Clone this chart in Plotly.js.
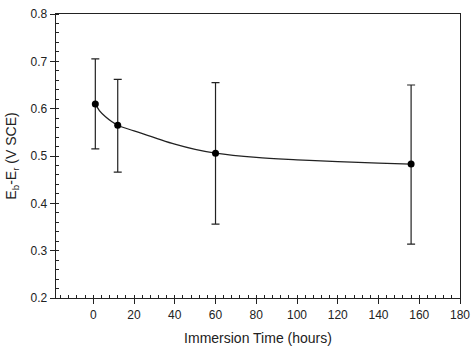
<!DOCTYPE html>
<html>
<head>
<meta charset="utf-8">
<script src="https://cdn.plot.ly/plotly-3.0.1.min.js"></script>
<style>html,body{margin:0;padding:0;background:#fff;}#chart{width:474px;height:347px;}</style>
</head>
<body>
<div id="chart"></div>
<script>
// Measured data
var timeHours = [1, 12, 60, 156];
var potential = [0.610, 0.565, 0.506, 0.483];
var errPlus   = [0.095, 0.097, 0.149, 0.167];
var errMinus  = [0.095, 0.099, 0.150, 0.169];

// Fitted curve
var fitX = [1, 3, 6, 9, 12, 20, 30, 40, 50, 60, 80, 100, 120, 140, 156];
var fitY = [0.610, 0.596, 0.583, 0.573, 0.565, 0.553, 0.539, 0.525, 0.514, 0.506, 0.497, 0.492, 0.488, 0.485, 0.483];

var xTicks = [0, 20, 40, 60, 80, 100, 120, 140, 160, 180];
var yTicks = [0.2, 0.3, 0.4, 0.5, 0.6, 0.7, 0.8];

var fontFam = 'Liberation Sans, Arial, Helvetica, sans-serif';
var ink = '#222';

var traces = [
  {
    x: fitX, y: fitY, type: 'scatter', mode: 'lines',
    line: {color: ink, width: 1.3, shape: 'spline', smoothing: 1},
    hoverinfo: 'skip', showlegend: false
  },
  {
    x: timeHours, y: potential, type: 'scatter', mode: 'markers',
    marker: {color: '#000', size: 7},
    error_y: {type: 'data', symmetric: false, array: errPlus, arrayminus: errMinus,
              color: ink, thickness: 1.2, width: 4},
    showlegend: false
  }
];

var layout = {
  width: 474, height: 347,
  margin: {l: 56, r: 14, t: 14, b: 49},
  paper_bgcolor: '#fff', plot_bgcolor: '#fff',
  font: {family: fontFam, size: 12, color: ink},
  xaxis: {
    range: [-18.3, 180], tickvals: xTicks, ticktext: xTicks.map(String),
    ticks: 'outside', ticklen: 5, tickwidth: 1, tickcolor: ink,
    showline: true, linecolor: ink, linewidth: 1.3, mirror: true,
    showgrid: false, zeroline: false,
    minor: {dtick: 4, tick0: 0, ticks: 'inside', ticklen: 3, tickcolor: ink, showgrid: false},
    tickfont: {size: 12},
    title: {text: 'Immersion Time (hours)', font: {size: 14}, standoff: 12}
  },
  yaxis: {
    range: [0.2, 0.8], tickvals: yTicks, ticktext: yTicks.map(function(v){return v.toFixed(1);}),
    ticks: 'outside', ticklen: 5, tickwidth: 1, tickcolor: ink,
    showline: true, linecolor: ink, linewidth: 1.3, mirror: true,
    showgrid: false, zeroline: false,
    minor: {dtick: 0.02, tick0: 0.2, ticks: 'inside', ticklen: 3, tickcolor: ink, showgrid: false},
    tickfont: {size: 12},
    title: {text: 'E<sub>b</sub>-E<sub>r</sub> (V SCE)', font: {size: 14}, standoff: 10}
  }
};

Plotly.newPlot('chart', traces, layout, {displayModeBar: false, staticPlot: true});
</script>
</body>
</html>
